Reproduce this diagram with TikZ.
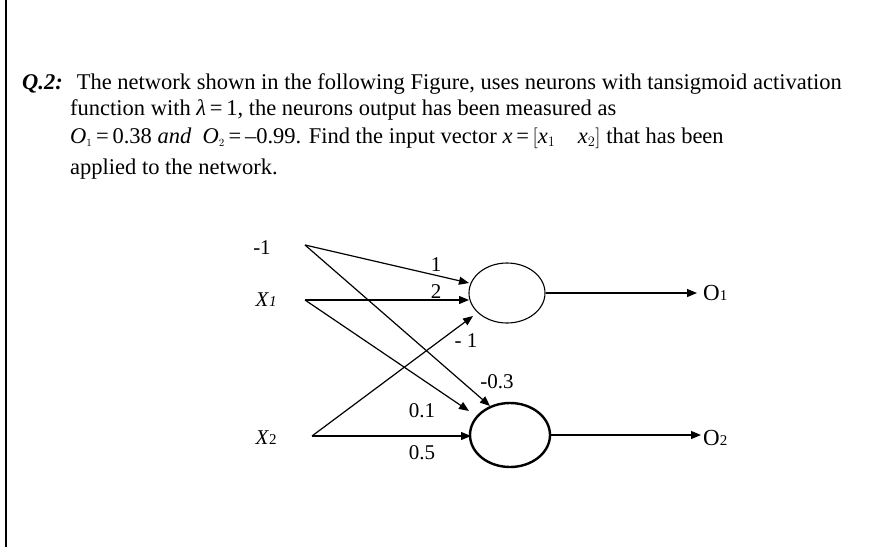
\documentclass[tikz,border=0pt]{standalone}
\usepackage{fontspec}
\setmainfont{Liberation Serif}
\usetikzlibrary{arrows.meta,shapes.geometric}
\begin{document}
\begin{tikzpicture}[x=1pt,y=-1pt,
  txt/.style={font=\fontsize{22.5}{26}\selectfont,inner sep=0pt},
  lbl/.style={font=\fontsize{21}{24}\selectfont,inner sep=0pt},
  wire/.style={line width=1.2pt,-{Triangle[length=10pt,width=8pt]}},
  pt/.style={inner sep=0pt,minimum size=0pt}]
\useasboundingbox (0,0) rectangle (889,547);
\draw[line width=1.2pt] (6,0) -- (6,547);
\node[txt,anchor=base west] (l1) at (22,89) {\textbf{\textit{Q.2:}}\hspace{14pt}The network shown in the following Figure, uses neurons with tansigmoid activation};
\node[txt,anchor=base west] (l2) at (70,115) {function with \textit{λ}\,=\,1, the neurons output has been measured as};
\node[txt,anchor=base west] (l3) at (70,143) {\textit{O}$_{\scriptscriptstyle 1}$\,=\,0.38 \textit{and}\ \ \textit{O}$_{\scriptscriptstyle 2}$\,=\,\textendash0.99. Find the input vector \textit{x}\,=\,$\Bigl[$\textit{x}$_1$\quad\textit{x}$_2\Bigr]$ that has been};
\node[txt,anchor=base west] (l4) at (70,174) {applied to the network.};
% neurons
\node[pt,draw,line width=1.1pt,minimum width=76pt,minimum height=60pt,ellipse] (n1) at (507,293) {};
\node[pt,draw,line width=2.4pt,minimum width=80pt,minimum height=64pt,ellipse] (n2) at (510,435) {};
% inputs
\node[lbl] (lm1) at (262,248) {-1};
\node[lbl] (lx1) at (266,300) {\textit{X}\fontsize{15}{17}\selectfont\textit{1}};
\node[lbl] (lx2) at (266,438) {\textit{X}\fontsize{15}{17}\selectfont 2};
\coordinate (im1) at (305,245);
\coordinate (ix1) at (305,300);
\coordinate (ix2) at (312,436);
\coordinate (a1) at (469,283);
\coordinate (a2) at (469,300);
\coordinate (a3) at (473,316);
\coordinate (b1) at (490,406);
\coordinate (b2) at (469,411);
\coordinate (b3) at (471,436);
\draw[wire] (im1) -- (a1);
\draw[wire] (ix1) -- (a2);
\draw[wire] (ix2) -- (a3);
\draw[wire] (im1) -- (b1);
\draw[wire] (ix1) -- (b2);
\draw[wire] (ix2) -- (b3);
% outputs
\coordinate (o1e) at (697,293);
\coordinate (o2e) at (701,435);
\draw[wire] (n1.east) -- (o1e);
\draw[wire] (n2.east) -- (o2e);
\node[lbl,font=\fontsize{23}{26}\selectfont,anchor=west] (o1) at (703,293) {O\fontsize{15}{17}\selectfont 1};
\node[lbl,font=\fontsize{23}{26}\selectfont,anchor=west] (o2) at (703,438) {O\fontsize{15}{17}\selectfont 2};
% weights
\node[lbl] (w1) at (436,265) {1};
\node[lbl] (w2) at (436,292) {2};
\node[lbl] (w3) at (466,341) {- 1};
\node[lbl] (w4) at (497,382) {-0.3};
\node[lbl] (w5) at (422,411) {0.1};
\node[lbl] (w6) at (422,453) {0.5};
\end{tikzpicture}
\end{document}
